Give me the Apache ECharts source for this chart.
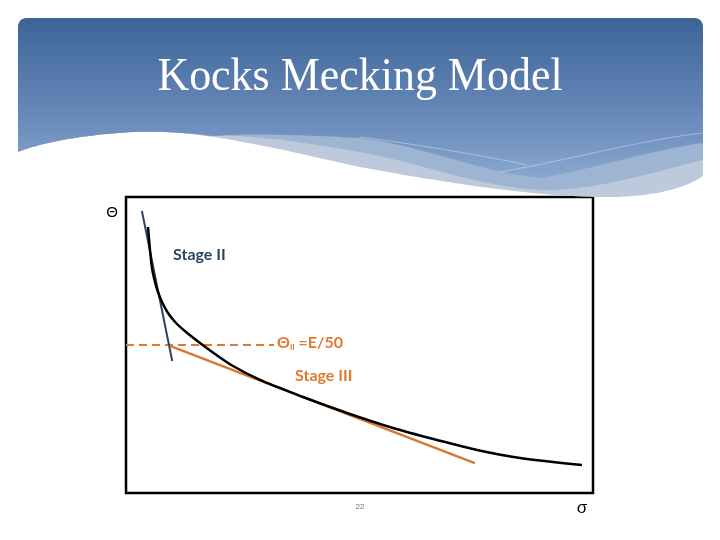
<!DOCTYPE html>
<html>
<head>
<meta charset="utf-8">
<script src="https://cdn.jsdelivr.net/npm/echarts@6/dist/echarts.min.js"></script>
<style>html,body{margin:0;padding:0;background:#fff;}#c{width:720px;height:540px;}</style>
</head>
<body>
<div id="c"></div>
<script>
// Main work-hardening curve θ(σ)
const curveSigma = [4.71, 5.14, 5.57, 6.21, 6.85, 7.71, 8.99, 10.71, 12.85, 15.85, 19.06, 22.91, 28.69, 32.98, 37.90, 47.32, 57.17, 66.60, 75.16, 84.37, 97.64];
const curveTheta = [89.86, 82.09, 76.01, 71.28, 67.91, 64.53, 60.81, 57.43, 54.39, 50.68, 46.96, 42.91, 38.18, 35.47, 32.43, 27.03, 21.96, 17.91, 14.53, 11.82, 9.46];
// Stage II tangent
const stage2Sigma = [3.4, 9.9];
const stage2Theta = [95.3, 44.6];
// Stage III tangent
const stage3Sigma = [9.4, 74.7];
const stage3Theta = [49.7, 10.1];
// θII = E/50 level (dashed)
const levelSigma = [0, 31.7];
const levelTheta = [50.0, 50.0];

const titleText = 'Kocks Mecking Model';
const yName = 'Θ';
const xName = 'σ';
const pageNo = '22';

const zip = (a, b) => a.map((v, i) => [v, b[i]]);

// convert a simple SVG-like path (M, L, Q, C, Z) to sampled points for decoration shapes
function pathPoints(d) {
  const tok = d.match(/[MLQCZ]|-?\d+(\.\d+)?/g);
  const pts = [];
  let i = 0, cx = 0, cy = 0;
  const num = () => parseFloat(tok[i++]);
  while (i < tok.length) {
    const c = tok[i++];
    if (c === 'M' || c === 'L') { cx = num(); cy = num(); pts.push([cx, cy]); }
    else if (c === 'Q') {
      const x1 = num(), y1 = num(), x = num(), y = num();
      for (let k = 1; k <= 12; k++) { const t = k / 12, u = 1 - t;
        pts.push([u*u*cx + 2*u*t*x1 + t*t*x, u*u*cy + 2*u*t*y1 + t*t*y]); }
      cx = x; cy = y;
    } else if (c === 'C') {
      const x1 = num(), y1 = num(), x2 = num(), y2 = num(), x = num(), y = num();
      for (let k = 1; k <= 30; k++) { const t = k / 30, u = 1 - t;
        pts.push([u*u*u*cx + 3*u*u*t*x1 + 3*u*t*t*x2 + t*t*t*x, u*u*u*cy + 3*u*u*t*y1 + 3*u*t*t*y2 + t*t*t*y]); }
      cx = x; cy = y;
    }
  }
  return pts;
}

const chart = echarts.init(document.getElementById('c'));
chart.setOption({
  animation: false,
  backgroundColor: '#ffffff',
  grid: { left: 126, top: 197, width: 467, height: 296, show: true, borderColor: '#000', borderWidth: 2.5, backgroundColor: 'transparent' },
  xAxis: { type: 'value', min: 0, max: 100, show: false },
  yAxis: { type: 'value', min: 0, max: 100, show: false },
  series: [
    { type: 'line', data: zip(levelSigma, levelTheta), symbol: 'none', lineStyle: { color: '#e07a30', width: 2, type: [8, 5] }, z: 2 },
    { type: 'line', data: zip(stage2Sigma, stage2Theta), symbol: 'none', lineStyle: { color: '#2b4363', width: 2 }, z: 3 },
    { type: 'line', data: zip(stage3Sigma, stage3Theta), symbol: 'none', lineStyle: { color: '#d9782e', width: 2.5 }, z: 3 },
    { type: 'line', data: zip(curveSigma, curveTheta), symbol: 'none', smooth: 0.3, lineStyle: { color: '#000', width: 2.5 }, z: 4 }
  ],
  graphic: [
    { type: 'polygon', z: 1, shape: { points: pathPoints('M18,28 Q18,18 28,18 L693,18 Q703,18 703,28 L703,176 C680,192 640,198 595,197 C520,195 430,180 360,167 C290,152 200,128 133,132 C80,135 40,143 18,152 Z') }, style: { fill: '#bccadb' } },
    { type: 'polygon', z: 2, shape: { points: pathPoints('M18,28 Q18,18 28,18 L693,18 Q703,18 703,28 L703,160 C660,170 600,190 545,190 C480,188 430,165 360,152 C300,142 250,134 213,136 C190,133 160,131 133,132 C80,135 40,143 18,152 Z') }, style: { fill: '#9db4d2' } },
    { type: 'polygon', z: 3, shape: { points: pathPoints('M18,28 Q18,18 28,18 L693,18 Q703,18 703,28 L703,143 C650,150 590,170 540,178 C480,172 420,145 360,138 C300,135 250,133 213,136 C190,133 160,131 133,132 C80,135 40,143 18,152 Z') },
      style: { fill: { type: 'linear', x: 0, y: 0, x2: 0, y2: 1, colorStops: [{ offset: 0, color: '#3d6497' }, { offset: 0.55, color: '#6385b6' }, { offset: 1, color: '#88a7cf' }] } } },
    { type: 'polyline', z: 4, shape: { points: pathPoints('M360,137 C420,145 480,155 527,165') }, style: { fill: null, stroke: 'rgba(255,255,255,0.35)', lineWidth: 1 } },
    { type: 'polyline', z: 4, shape: { points: pathPoints('M500,172 C570,160 640,140 703,133') }, style: { fill: null, stroke: 'rgba(255,255,255,0.35)', lineWidth: 1 } },
    { type: 'text', z: 10, x: 360, y: 78, scaleX: 0.935, style: { text: titleText, fill: '#ffffff', font: '47px "Liberation Serif"', textAlign: 'center', textVerticalAlign: 'middle' } },
    { type: 'text', z: 10, x: 112, y: 213, style: { text: yName, fill: '#000', font: '15px "Liberation Sans"', textAlign: 'center', textVerticalAlign: 'middle' } },
    { type: 'text', z: 10, x: 582, y: 508, style: { text: xName, fill: '#000', font: '17px "Liberation Sans"', textAlign: 'center', textVerticalAlign: 'middle' } },
    { type: 'text', z: 10, x: 360, y: 507, style: { text: pageNo, fill: '#5b7190', font: '8px "Liberation Sans"', textAlign: 'center', textVerticalAlign: 'middle' } },
    { type: 'text', z: 10, x: 173, y: 255, style: { text: 'Stage II', fill: '#2b4363', font: 'bold 16px Lato', textAlign: 'left', textVerticalAlign: 'middle' } },
    { type: 'text', z: 10, x: 295, y: 376, style: { text: 'Stage III', fill: '#e07a30', font: 'bold 16px Lato', textAlign: 'left', textVerticalAlign: 'middle' } },
    { type: 'text', z: 10, x: 277, y: 343, style: { text: '{a|Θ}{s|II}{a| =E/50}', fill: '#e07a30', textAlign: 'left', textVerticalAlign: 'middle',
        rich: { a: { fontFamily: 'Lato', fontWeight: 'bold', fontSize: 16, fill: '#e07a30' },
                s: { fontFamily: 'Lato', fontWeight: 'bold', fontSize: 8, fill: '#e07a30', verticalAlign: 'bottom', padding: [8, 0, 0, 0] } } } }
  ]
});
</script>
</body>
</html>
